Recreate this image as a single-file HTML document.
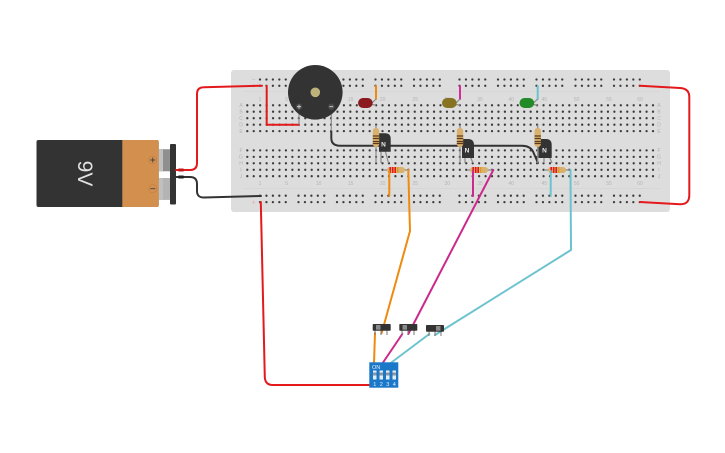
<!DOCTYPE html>
<html>
<head>
<meta charset="utf-8">
<style>
html,body{margin:0;padding:0;background:#fff;width:725px;height:453px;overflow:hidden}
svg{display:block}
text{font-family:"Liberation Sans",sans-serif}
.dots line{stroke:#3a3a3a;stroke-width:2.3;stroke-linecap:round;stroke-dasharray:0 6.44}
.lab text{font-size:5px;fill:#b4b4b4;text-anchor:middle}
.w{fill:none;stroke-width:2;stroke-linejoin:round;stroke-linecap:round}
.lead{fill:none;stroke:#8a8a8a;stroke-width:1.2}
</style>
</head>
<body>
<svg width="725" height="453" viewBox="0 0 725 453" xmlns="http://www.w3.org/2000/svg">
<!-- board -->
<rect x="231" y="70" width="439" height="142" rx="3" fill="#dddddd"/>
<path d="M244 91.7H660M244 188.3H660" stroke="#d2d2d2" stroke-width=".6"/>
<g class="dots">
<line x1="247.3" y1="105.3" x2="656" y2="105.3"/>
<line x1="247.3" y1="111.7" x2="656" y2="111.7"/>
<line x1="247.3" y1="118.2" x2="656" y2="118.2"/>
<line x1="247.3" y1="124.7" x2="656" y2="124.7"/>
<line x1="247.3" y1="131.1" x2="656" y2="131.1"/>
<line x1="247.3" y1="150.4" x2="656" y2="150.4"/>
<line x1="247.3" y1="156.9" x2="656" y2="156.9"/>
<line x1="247.3" y1="163.3" x2="656" y2="163.3"/>
<line x1="247.3" y1="169.8" x2="656" y2="169.8"/>
<line x1="247.3" y1="176.2" x2="656" y2="176.2"/>
<g id="r1">
<line x1="260" y1="79.5" x2="286.5" y2="79.5"/><line x1="298.5" y1="79.5" x2="325" y2="79.5"/><line x1="337" y1="79.5" x2="363.5" y2="79.5"/><line x1="375.5" y1="79.5" x2="402" y2="79.5"/><line x1="414" y1="79.5" x2="440.5" y2="79.5"/><line x1="459.5" y1="79.5" x2="486" y2="79.5"/><line x1="498" y1="79.5" x2="524.5" y2="79.5"/><line x1="536.5" y1="79.5" x2="563" y2="79.5"/><line x1="575.5" y1="79.5" x2="602" y2="79.5"/><line x1="614" y1="79.5" x2="640.5" y2="79.5"/>
</g>
<use href="#r1" y="6.3"/>
<use href="#r1" y="116.2"/>
<use href="#r1" y="122.6"/>
</g>
<g class="lab">
<text x="260" y="101">1</text><text x="286.7" y="101">5</text><text x="318.7" y="101">10</text><text x="350.7" y="101">15</text><text x="382.7" y="101">20</text><text x="415.3" y="101">25</text><text x="447.3" y="101">30</text><text x="480" y="101">35</text><text x="511.3" y="101">40</text><text x="544.3" y="101">45</text><text x="576.7" y="101">50</text><text x="609" y="101">55</text><text x="640" y="101">60</text>
<text x="260" y="185">1</text><text x="286.7" y="185">5</text><text x="318.7" y="185">10</text><text x="350.7" y="185">15</text><text x="382.7" y="185">20</text><text x="415.3" y="185">25</text><text x="447.3" y="185">30</text><text x="480" y="185">35</text><text x="511.3" y="185">40</text><text x="544.3" y="185">45</text><text x="576.7" y="185">50</text><text x="609" y="185">55</text><text x="640" y="185">60</text>
<text x="241" y="107">A</text><text x="241" y="113.4">B</text><text x="241" y="119.9">C</text><text x="241" y="126.4">D</text><text x="241" y="132.8">E</text><text x="241" y="152">F</text><text x="241" y="158.6">G</text><text x="241" y="165">H</text><text x="241" y="171.5">I</text><text x="241" y="178">J</text>
<text x="659" y="107">A</text><text x="659" y="113.4">B</text><text x="659" y="119.9">C</text><text x="659" y="126.4">D</text><text x="659" y="132.8">E</text><text x="659" y="152">F</text><text x="659" y="158.6">G</text><text x="659" y="165">H</text><text x="659" y="171.5">I</text><text x="659" y="178">J</text>
</g>
<text x="253.5" y="81.5" font-size="7" fill="#a9c0d8" text-anchor="middle">−</text>
<text x="253.5" y="88" font-size="7" fill="#eba9a9" text-anchor="middle">+</text>
<text x="253.5" y="204.5" font-size="7" fill="#eba9a9" text-anchor="middle">+</text>

<!-- battery -->
<rect x="159" y="149" width="11" height="22.5" fill="#c0c0c0"/><rect x="163" y="149.5" width="7" height="21.5" fill="#8f8f8f"/>
<rect x="159" y="178" width="11" height="22" fill="#c0c0c0"/><rect x="163" y="178" width="7" height="21.5" fill="#b4b4b4"/>
<rect x="36.5" y="140" width="122.2" height="67" rx="2" fill="#333333"/>
<path d="M122.3 140H156.7a2 2 0 0 1 2 2V205a2 2 0 0 1-2 2H122.3Z" fill="#d28f4e"/>
<rect x="170" y="144" width="6" height="60.5" rx="1" fill="#333"/>
<circle cx="152.7" cy="160" r="4" fill="none" stroke="#bb7d40" stroke-width=".5"/>
<circle cx="152.7" cy="188.7" r="4" fill="none" stroke="#bb7d40" stroke-width=".5"/>
<path d="M150.2 160h5M152.7 157.5v5M150.2 188.7h5" stroke="#444" stroke-width=".9"/>
<text transform="translate(85.5,173.5) rotate(90)" font-size="21" fill="#e2e2e2" text-anchor="middle" y="7.5">9V</text>

<!-- battery wires -->
<path class="w" stroke="#e3191c" d="M176 170H190Q197 170 197 163V94Q197 87.3 204 87.3L262 85.7"/>
<path class="w" stroke="#333" d="M176 177H190Q197 177 197 184V191Q197 197.6 204 197.5L261 196"/>
<rect x="178" y="168.5" width="6" height="3" rx="1" fill="#c01a1c"/>
<rect x="178" y="175.5" width="6" height="3" rx="1" fill="#222"/>

<!-- horizontal wires on board -->
<path class="w" stroke="#e3191c" d="M266.7 86V124.7H299"/>
<path class="w" stroke="#333" d="M331.3 131V138Q331.3 145.7 340 145.7H522Q530 145.7 533 151.5L538 163"/>
<path class="w" stroke="#e3191c" d="M640 85.7L680 88Q689.3 88.5 689.3 97V195Q689.3 204.5 680 204.2L640 202"/>
<path class="w" stroke="#e3191c" d="M260.8 202L264.8 377Q265 385 273 385H369.5"/>

<!-- buzzer -->
<path class="lead" d="M299 107V124.7M331.3 107V131"/>
<circle cx="315.3" cy="92.3" r="27.3" fill="#333"/>
<circle cx="315.3" cy="92.3" r="4.8" fill="#bdb27c"/>
<circle cx="299" cy="106.7" r="3.2" fill="#4a4a4a"/>
<circle cx="331.3" cy="106.7" r="3.2" fill="#4a4a4a"/>
<path d="M297 106.7h4M299 104.7v4M329.5 106.7h3.6" stroke="#ddd" stroke-width=".8"/>

<!-- LEDs -->
<path class="w" stroke="#ef8a10" d="M376 86V99"/>
<path class="w" stroke="#d9289a" d="M460 86V99"/>
<path class="w" stroke="#6cc3cf" d="M537.7 86V99"/>
<path class="lead" d="M372 103L376 99M372 104.5L376 105.3M456 103L460 99M456 104.5L460 105.3M533.5 103L537.7 99M533.5 104.5L537.7 105.3"/>
<rect x="358" y="98" width="14.7" height="10" rx="5" fill="#8a1a1e"/>
<rect x="442" y="98" width="14.7" height="10" rx="5" fill="#857322"/>
<rect x="519.5" y="98" width="14.7" height="10" rx="5" fill="#228a26"/>

<!-- transistors + vertical resistors -->
<path class="lead" d="M376 124.7V163.3M381 150V163M385 150L388.5 163M460 124.7V163.3M465 156V163M470 156L473 163M537.7 124.7V163.3M544 156V163M549 156L552 163"/>
<path d="M379 133.3H385Q390.7 133.3 390.7 139V151.7H379Z" fill="#333"/>
<path d="M462 139H468Q474 139 474 145V158H462Z" fill="#333"/>
<path d="M538.5 139H546Q551.7 139 551.7 145V158H538.5Z" fill="#333"/>
<text x="383.5" y="146.5" font-size="6.5" font-weight="bold" fill="#eee" text-anchor="middle">N</text>
<text x="467" y="152.5" font-size="6.5" font-weight="bold" fill="#eee" text-anchor="middle">N</text>
<text x="544.5" y="152.5" font-size="6.5" font-weight="bold" fill="#eee" text-anchor="middle">N</text>
<g id="vr">
<rect x="372.8" y="128" width="6.4" height="19" rx="3" fill="#d9b06c"/>
<path d="M372.8 136h6.4M372.8 138.5h6.4M372.8 141.5h6.4M372.8 143.5h6.4" stroke="#5b3a1a" stroke-width="1.2"/>
</g>
<use href="#vr" x="84"/>
<use href="#vr" x="161.7"/>

<!-- horizontal resistors -->
<path class="lead" d="M383 170H409M467 170H494M544 170H571"/>
<g id="hr">
<rect x="387" y="167" width="18" height="6" rx="3" fill="#d9b06c"/>
<path d="M390.2 167v6M392.7 167v6M395.2 167v6" stroke="#e8161a" stroke-width="1.6"/>
<path d="M397.6 167v6" stroke="#d89a20" stroke-width="1.2"/>
</g>
<use href="#hr" x="83"/>
<use href="#hr" x="161"/>

<!-- wires to switches -->
<path class="w" stroke="#ef8a10" d="M389.3 171V196M408.3 170L410 231L381.7 333M375 333L374 363"/>
<path class="w" stroke="#cb2a8c" d="M473 171V196M493.3 170L408.3 334M402.3 334L382.7 363"/>
<path class="w" stroke="#6cc3cf" d="M550.7 171V196M570.5 170L571 250L435 335M429.3 334L390.7 363"/>

<!-- slide switches -->
<g>
<path d="M375 330V335M381 330V335M387 330V335" stroke="#777" stroke-width="1"/>
<rect x="372.7" y="324" width="18" height="6.7" rx=".8" fill="#333"/>
<rect x="376" y="325" width="4.5" height="4.7" fill="#8a8a8a"/>
</g>
<g>
<path d="M402 330V335M408 330V335M414 330V335" stroke="#777" stroke-width="1"/>
<rect x="399.3" y="324" width="18" height="6.7" rx=".8" fill="#333"/>
<rect x="402.5" y="325" width="4.5" height="4.7" fill="#8a8a8a"/>
</g>
<g>
<path d="M429 331.5V336M435 331.5V336M441 331.5V336" stroke="#777" stroke-width="1"/>
<rect x="426" y="325" width="18" height="6.7" rx=".8" fill="#333"/>
<rect x="436" y="326" width="4.5" height="4.7" fill="#8a8a8a"/>
</g>

<!-- DIP -->
<rect x="369.3" y="362.3" width="29" height="25.4" fill="#1b78c8"/>
<text x="372" y="369" font-size="5.5" fill="#e8f2fb">ON</text>
<g fill="#e6eef5">
<rect x="373" y="370.5" width="3.5" height="9"/><rect x="379.5" y="370.5" width="3.5" height="9"/><rect x="386" y="370.5" width="3.5" height="9"/><rect x="392.5" y="370.5" width="3.5" height="9"/>
</g>
<g fill="#8a96a2">
<rect x="373" y="372.5" width="3.5" height="3"/><rect x="379.5" y="372.5" width="3.5" height="3"/><rect x="386" y="372.5" width="3.5" height="3"/><rect x="392.5" y="372.5" width="3.5" height="3"/>
</g>
<g font-size="5.5" fill="#e8f2fb" text-anchor="middle">
<text x="374.8" y="386">1</text><text x="381.3" y="386">2</text><text x="387.8" y="386">3</text><text x="394.3" y="386">4</text>
</g>
</svg>
</body>
</html>
